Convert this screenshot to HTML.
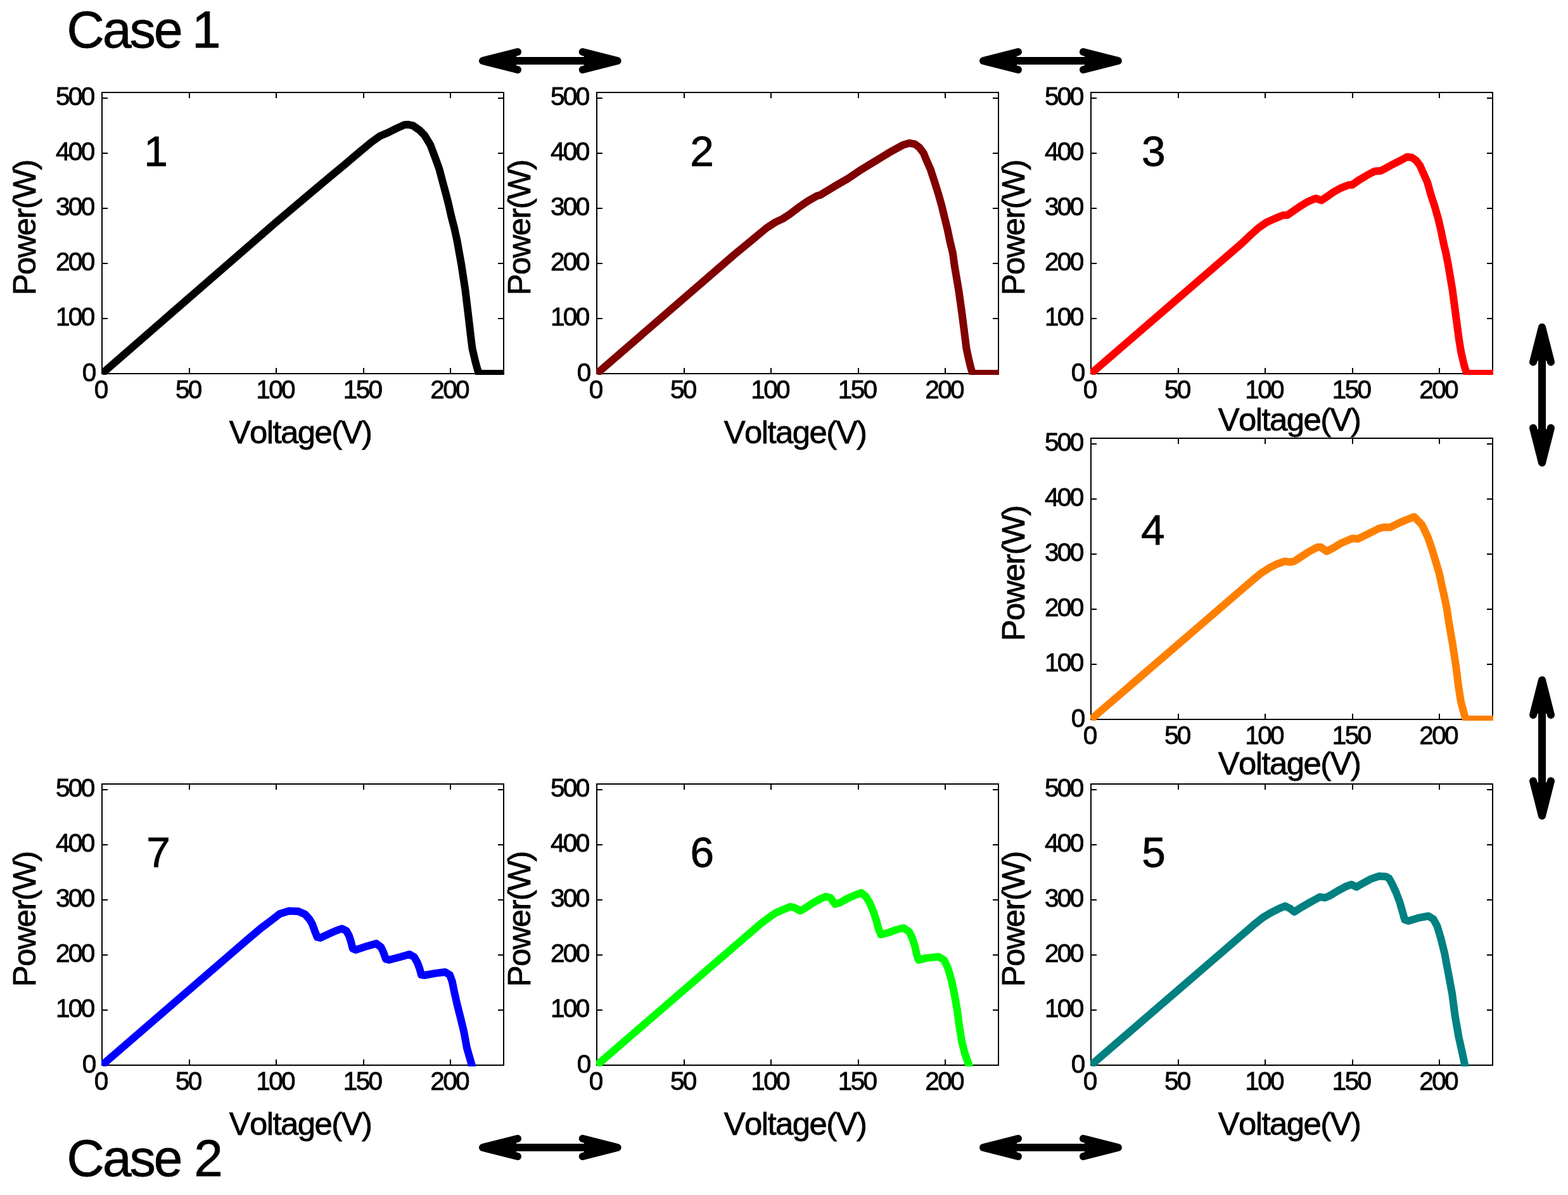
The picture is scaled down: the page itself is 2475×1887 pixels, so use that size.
<!DOCTYPE html>
<html><head><meta charset="utf-8"><title>PV curves</title>
<style>html,body{margin:0;padding:0;background:#fff;overflow:hidden}svg{display:block}.t{font-family:"Liberation Sans",Arial,Helvetica,sans-serif;fill:#000;stroke:#000;stroke-width:0.8px;font-kerning:none}</style></head><body>
<svg width="2475" height="1887" viewBox="0 0 2475 1887">
<rect width="2475" height="1887" fill="#fff"/>
<rect x="160" y="145" width="636" height="446" fill="#fff"/>
<g fill="#000" shape-rendering="crispEdges">
<rect x="160" y="145" width="636" height="2"/>
<rect x="160" y="589" width="636" height="2"/>
<rect x="160" y="145" width="2" height="446"/>
<rect x="794" y="145" width="2" height="446"/>
<rect x="160" y="589" width="10" height="2"/>
<rect x="786" y="589" width="10" height="2"/>
<rect x="160" y="502" width="10" height="2"/>
<rect x="786" y="502" width="10" height="2"/>
<rect x="160" y="415" width="10" height="2"/>
<rect x="786" y="415" width="10" height="2"/>
<rect x="160" y="328" width="10" height="2"/>
<rect x="786" y="328" width="10" height="2"/>
<rect x="160" y="241" width="10" height="2"/>
<rect x="786" y="241" width="10" height="2"/>
<rect x="160" y="154" width="10" height="2"/>
<rect x="786" y="154" width="10" height="2"/>
<rect x="160" y="581" width="2" height="10"/>
<rect x="160" y="145" width="2" height="10"/>
<rect x="297.5" y="581" width="2" height="10"/>
<rect x="297.5" y="145" width="2" height="10"/>
<rect x="435" y="581" width="2" height="10"/>
<rect x="435" y="145" width="2" height="10"/>
<rect x="572.5" y="581" width="2" height="10"/>
<rect x="572.5" y="145" width="2" height="10"/>
<rect x="710" y="581" width="2" height="10"/>
<rect x="710" y="145" width="2" height="10"/>
</g>
<text class="t" x="129.86" y="601.5" font-size="40.5">0</text>
<text class="t" x="88.06 107.86 127.66" y="513.6" font-size="40.5">100</text>
<text class="t" x="88.06 107.86 127.66" y="426.6" font-size="40.5">200</text>
<text class="t" x="88.06 107.86 127.66" y="339.6" font-size="40.5">300</text>
<text class="t" x="88.06 107.86 127.66" y="252.6" font-size="40.5">400</text>
<text class="t" x="88.06 107.86 127.66" y="165.6" font-size="40.5">500</text>
<text class="t" x="148.86" y="629.2" font-size="40.5">0</text>
<text class="t" x="276.96 296.76" y="629.2" font-size="40.5">50</text>
<text class="t" x="404.36 424.16 443.96" y="629.2" font-size="40.5">100</text>
<text class="t" x="541.86 561.66 581.46" y="629.2" font-size="40.5">150</text>
<text class="t" x="679.36 699.16 718.96" y="629.2" font-size="40.5">200</text>
<text class="t" transform="translate(56 462.1) rotate(-90)" x="-4.17 28.14 54.81 89.92 116.59 131.93 147.27 193.63" y="0" font-size="50.8">Power(W)</text>
<text class="t" x="361.68 394.03 420.76 430.52 443.11 469.83 496.56 523.29 538.68 571.03" y="699.9" font-size="50.8">Voltage(V)</text>
<text class="t" x="227.16" y="261.9" font-size="67.5">1</text>
<clipPath id="c1"><rect x="160" y="145" width="636" height="447"/></clipPath>
<path d="M161 590 L386 394.2 L434.5 352 L492.6 302.9 L521.8 278.4 L543.6 260.4 L565.3 241.9 L586.2 224.5 L599.3 215.1 L612.4 209.5 L625.5 202.9 L638.6 197 L645.1 196.8 L651.7 198.3 L662.1 205.5 L670 213.4 L679.2 228.6 L686.4 247.6 L693.3 266.7 L698.3 285.7 L703.5 304.8 L708.3 323.8 L712.6 342.9 L717.1 360 L721.5 380 L728.5 419.3 L734.5 458.6 L739.2 497.9 L743.8 537.2 L745.5 550.3 L750.1 570 L753.6 583 L756 590 L800 590" fill="none" stroke="#000000" stroke-width="12" stroke-linejoin="round" stroke-linecap="butt" clip-path="url(#c1)"/>
<rect x="941" y="145" width="636" height="446" fill="#fff"/>
<g fill="#000" shape-rendering="crispEdges">
<rect x="941" y="145" width="636" height="2"/>
<rect x="941" y="589" width="636" height="2"/>
<rect x="941" y="145" width="2" height="446"/>
<rect x="1575" y="145" width="2" height="446"/>
<rect x="941" y="589" width="10" height="2"/>
<rect x="1567" y="589" width="10" height="2"/>
<rect x="941" y="502" width="10" height="2"/>
<rect x="1567" y="502" width="10" height="2"/>
<rect x="941" y="415" width="10" height="2"/>
<rect x="1567" y="415" width="10" height="2"/>
<rect x="941" y="328" width="10" height="2"/>
<rect x="1567" y="328" width="10" height="2"/>
<rect x="941" y="241" width="10" height="2"/>
<rect x="1567" y="241" width="10" height="2"/>
<rect x="941" y="154" width="10" height="2"/>
<rect x="1567" y="154" width="10" height="2"/>
<rect x="941" y="581" width="2" height="10"/>
<rect x="941" y="145" width="2" height="10"/>
<rect x="1078.5" y="581" width="2" height="10"/>
<rect x="1078.5" y="145" width="2" height="10"/>
<rect x="1216" y="581" width="2" height="10"/>
<rect x="1216" y="145" width="2" height="10"/>
<rect x="1353.5" y="581" width="2" height="10"/>
<rect x="1353.5" y="145" width="2" height="10"/>
<rect x="1491" y="581" width="2" height="10"/>
<rect x="1491" y="145" width="2" height="10"/>
</g>
<text class="t" x="910.86" y="601.5" font-size="40.5">0</text>
<text class="t" x="869.06 888.86 908.66" y="513.6" font-size="40.5">100</text>
<text class="t" x="869.06 888.86 908.66" y="426.6" font-size="40.5">200</text>
<text class="t" x="869.06 888.86 908.66" y="339.6" font-size="40.5">300</text>
<text class="t" x="869.06 888.86 908.66" y="252.6" font-size="40.5">400</text>
<text class="t" x="869.06 888.86 908.66" y="165.6" font-size="40.5">500</text>
<text class="t" x="929.86" y="629.2" font-size="40.5">0</text>
<text class="t" x="1057.96 1077.76" y="629.2" font-size="40.5">50</text>
<text class="t" x="1185.36 1205.16 1224.96" y="629.2" font-size="40.5">100</text>
<text class="t" x="1322.86 1342.66 1362.46" y="629.2" font-size="40.5">150</text>
<text class="t" x="1460.36 1480.16 1499.96" y="629.2" font-size="40.5">200</text>
<text class="t" transform="translate(837 462.1) rotate(-90)" x="-4.17 28.14 54.81 89.92 116.59 131.93 147.27 193.63" y="0" font-size="50.8">Power(W)</text>
<text class="t" x="1142.68 1175.03 1201.76 1211.52 1224.11 1250.83 1277.56 1304.29 1319.68 1352.03" y="699.9" font-size="50.8">Voltage(V)</text>
<text class="t" x="1089.23" y="262" font-size="67.5">2</text>
<clipPath id="c2"><rect x="941" y="145" width="636" height="447"/></clipPath>
<path d="M942 590 L1159 402.1 L1188.1 378.1 L1209.9 360 L1224.4 350.6 L1235.3 345.6 L1246.2 338.5 L1260.7 327.4 L1275.2 317.5 L1289.7 309.3 L1294.5 308.1 L1316.3 294.8 L1338.1 282.2 L1359.9 267.6 L1381.6 254.3 L1403.4 241.1 L1425.2 228.9 L1435.2 226 L1444.3 227.7 L1451.1 232.8 L1457.9 241.8 L1460.5 248.6 L1468.8 267.6 L1475 286.7 L1481 305.7 L1486.4 324.8 L1491 343.8 L1495.7 362.9 L1499.2 380 L1504 400 L1506.6 419.3 L1513.3 458.6 L1518.8 497.9 L1523.8 537.2 L1525.4 550.3 L1529.7 570 L1533 583 L1535.5 590 L1580 590" fill="none" stroke="#800000" stroke-width="12" stroke-linejoin="round" stroke-linecap="butt" clip-path="url(#c2)"/>
<rect x="1721" y="145" width="636" height="446" fill="#fff"/>
<g fill="#000" shape-rendering="crispEdges">
<rect x="1721" y="145" width="636" height="2"/>
<rect x="1721" y="589" width="636" height="2"/>
<rect x="1721" y="145" width="2" height="446"/>
<rect x="2355" y="145" width="2" height="446"/>
<rect x="1721" y="589" width="10" height="2"/>
<rect x="2347" y="589" width="10" height="2"/>
<rect x="1721" y="502" width="10" height="2"/>
<rect x="2347" y="502" width="10" height="2"/>
<rect x="1721" y="415" width="10" height="2"/>
<rect x="2347" y="415" width="10" height="2"/>
<rect x="1721" y="328" width="10" height="2"/>
<rect x="2347" y="328" width="10" height="2"/>
<rect x="1721" y="241" width="10" height="2"/>
<rect x="2347" y="241" width="10" height="2"/>
<rect x="1721" y="154" width="10" height="2"/>
<rect x="2347" y="154" width="10" height="2"/>
<rect x="1721" y="581" width="2" height="10"/>
<rect x="1721" y="145" width="2" height="10"/>
<rect x="1858.5" y="581" width="2" height="10"/>
<rect x="1858.5" y="145" width="2" height="10"/>
<rect x="1996" y="581" width="2" height="10"/>
<rect x="1996" y="145" width="2" height="10"/>
<rect x="2133.5" y="581" width="2" height="10"/>
<rect x="2133.5" y="145" width="2" height="10"/>
<rect x="2271" y="581" width="2" height="10"/>
<rect x="2271" y="145" width="2" height="10"/>
</g>
<text class="t" x="1690.86" y="601.5" font-size="40.5">0</text>
<text class="t" x="1649.06 1668.86 1688.66" y="513.6" font-size="40.5">100</text>
<text class="t" x="1649.06 1668.86 1688.66" y="426.6" font-size="40.5">200</text>
<text class="t" x="1649.06 1668.86 1688.66" y="339.6" font-size="40.5">300</text>
<text class="t" x="1649.06 1668.86 1688.66" y="252.6" font-size="40.5">400</text>
<text class="t" x="1649.06 1668.86 1688.66" y="165.6" font-size="40.5">500</text>
<text class="t" x="1709.86" y="629.2" font-size="40.5">0</text>
<text class="t" x="1837.96 1857.76" y="629.2" font-size="40.5">50</text>
<text class="t" x="1965.36 1985.16 2004.96" y="629.2" font-size="40.5">100</text>
<text class="t" x="2102.86 2122.66 2142.46" y="629.2" font-size="40.5">150</text>
<text class="t" x="2240.36 2260.16 2279.96" y="629.2" font-size="40.5">200</text>
<text class="t" transform="translate(1617 462.1) rotate(-90)" x="-4.17 28.14 54.81 89.92 116.59 131.93 147.27 193.63" y="0" font-size="50.8">Power(W)</text>
<text class="t" x="1922.68 1955.03 1981.76 1991.52 2004.11 2030.83 2057.56 2084.29 2099.68 2132.03" y="680" font-size="50.8">Voltage(V)</text>
<text class="t" x="1801.93" y="262.3" font-size="67.5">3</text>
<clipPath id="c3"><rect x="1721" y="145" width="636" height="447"/></clipPath>
<path d="M1722 590 L1960 384.4 L1973.1 371.9 L1986.2 360.1 L1999.3 351 L2012.4 345.1 L2025.5 339.8 L2032 339.8 L2038.6 335.2 L2051.7 326.1 L2064.8 318.2 L2076.6 313.2 L2085.7 316.3 L2091 313 L2104.1 303.8 L2117.1 296.6 L2128.9 292 L2134.2 292 L2143.3 285.5 L2156.4 277.6 L2169.5 270.4 L2179 269.8 L2187 265.8 L2198.3 259.6 L2209.6 253.9 L2220.9 247.7 L2228.8 248.8 L2235.6 253.9 L2241.3 261.3 L2244.5 268.6 L2253 287.6 L2258.3 306.7 L2264.5 325.7 L2270 344.8 L2274.5 363.8 L2278.3 382.9 L2282.4 400 L2286.1 419.3 L2292.7 458.6 L2297.9 497.9 L2303.1 537.2 L2306.4 556.9 L2311 576.5 L2313.4 584.4 L2315.5 590 L2360 590" fill="none" stroke="#ff0000" stroke-width="12" stroke-linejoin="round" stroke-linecap="butt" clip-path="url(#c3)"/>
<rect x="1721" y="691" width="636" height="446" fill="#fff"/>
<g fill="#000" shape-rendering="crispEdges">
<rect x="1721" y="691" width="636" height="2"/>
<rect x="1721" y="1135" width="636" height="2"/>
<rect x="1721" y="691" width="2" height="446"/>
<rect x="2355" y="691" width="2" height="446"/>
<rect x="1721" y="1135" width="10" height="2"/>
<rect x="2347" y="1135" width="10" height="2"/>
<rect x="1721" y="1048" width="10" height="2"/>
<rect x="2347" y="1048" width="10" height="2"/>
<rect x="1721" y="961" width="10" height="2"/>
<rect x="2347" y="961" width="10" height="2"/>
<rect x="1721" y="874" width="10" height="2"/>
<rect x="2347" y="874" width="10" height="2"/>
<rect x="1721" y="787" width="10" height="2"/>
<rect x="2347" y="787" width="10" height="2"/>
<rect x="1721" y="700" width="10" height="2"/>
<rect x="2347" y="700" width="10" height="2"/>
<rect x="1721" y="1127" width="2" height="10"/>
<rect x="1721" y="691" width="2" height="10"/>
<rect x="1858.5" y="1127" width="2" height="10"/>
<rect x="1858.5" y="691" width="2" height="10"/>
<rect x="1996" y="1127" width="2" height="10"/>
<rect x="1996" y="691" width="2" height="10"/>
<rect x="2133.5" y="1127" width="2" height="10"/>
<rect x="2133.5" y="691" width="2" height="10"/>
<rect x="2271" y="1127" width="2" height="10"/>
<rect x="2271" y="691" width="2" height="10"/>
</g>
<text class="t" x="1690.86" y="1147.5" font-size="40.5">0</text>
<text class="t" x="1649.06 1668.86 1688.66" y="1059.6" font-size="40.5">100</text>
<text class="t" x="1649.06 1668.86 1688.66" y="972.6" font-size="40.5">200</text>
<text class="t" x="1649.06 1668.86 1688.66" y="885.6" font-size="40.5">300</text>
<text class="t" x="1649.06 1668.86 1688.66" y="798.6" font-size="40.5">400</text>
<text class="t" x="1649.06 1668.86 1688.66" y="711.6" font-size="40.5">500</text>
<text class="t" x="1709.86" y="1175.2" font-size="40.5">0</text>
<text class="t" x="1837.96 1857.76" y="1175.2" font-size="40.5">50</text>
<text class="t" x="1965.36 1985.16 2004.96" y="1175.2" font-size="40.5">100</text>
<text class="t" x="2102.86 2122.66 2142.46" y="1175.2" font-size="40.5">150</text>
<text class="t" x="2240.36 2260.16 2279.96" y="1175.2" font-size="40.5">200</text>
<text class="t" transform="translate(1617 1008.1) rotate(-90)" x="-4.17 28.14 54.81 89.92 116.59 131.93 147.27 193.63" y="0" font-size="50.8">Power(W)</text>
<text class="t" x="1922.68 1955.03 1981.76 1991.52 2004.11 2030.83 2057.56 2084.29 2099.68 2132.03" y="1223" font-size="50.8">Voltage(V)</text>
<text class="t" x="1800.94" y="859.8" font-size="67.5">4</text>
<clipPath id="c4"><rect x="1721" y="691" width="636" height="447"/></clipPath>
<path d="M1722 1136 L1980 913.8 L1990.5 905.2 L2003.6 896.7 L2016.7 890.2 L2028.5 886.3 L2036.3 887.6 L2042.9 886.3 L2052 880.4 L2065.1 871.8 L2079.5 864 L2084.8 864 L2093.9 870.5 L2104.4 865.3 L2117.5 857.4 L2134.5 850.2 L2143.7 850.9 L2156.8 844.3 L2176.4 834.5 L2184.3 832.6 L2194.6 832.7 L2211.3 824.4 L2232.1 816 L2244.5 828.6 L2253.5 847.6 L2260.2 866.7 L2265.9 885.7 L2271.6 904.8 L2275.7 923.8 L2280 942.9 L2283.5 960 L2287.1 983.9 L2293 1017.9 L2298.1 1051.8 L2302.4 1085.7 L2306 1108.4 L2312.3 1131.7 L2314 1136 L2360 1136" fill="none" stroke="#ff8000" stroke-width="12" stroke-linejoin="round" stroke-linecap="butt" clip-path="url(#c4)"/>
<rect x="160" y="1237" width="636" height="446" fill="#fff"/>
<g fill="#000" shape-rendering="crispEdges">
<rect x="160" y="1237" width="636" height="2"/>
<rect x="160" y="1681" width="636" height="2"/>
<rect x="160" y="1237" width="2" height="446"/>
<rect x="794" y="1237" width="2" height="446"/>
<rect x="160" y="1681" width="10" height="2"/>
<rect x="786" y="1681" width="10" height="2"/>
<rect x="160" y="1594" width="10" height="2"/>
<rect x="786" y="1594" width="10" height="2"/>
<rect x="160" y="1507" width="10" height="2"/>
<rect x="786" y="1507" width="10" height="2"/>
<rect x="160" y="1420" width="10" height="2"/>
<rect x="786" y="1420" width="10" height="2"/>
<rect x="160" y="1333" width="10" height="2"/>
<rect x="786" y="1333" width="10" height="2"/>
<rect x="160" y="1246" width="10" height="2"/>
<rect x="786" y="1246" width="10" height="2"/>
<rect x="160" y="1673" width="2" height="10"/>
<rect x="160" y="1237" width="2" height="10"/>
<rect x="297.5" y="1673" width="2" height="10"/>
<rect x="297.5" y="1237" width="2" height="10"/>
<rect x="435" y="1673" width="2" height="10"/>
<rect x="435" y="1237" width="2" height="10"/>
<rect x="572.5" y="1673" width="2" height="10"/>
<rect x="572.5" y="1237" width="2" height="10"/>
<rect x="710" y="1673" width="2" height="10"/>
<rect x="710" y="1237" width="2" height="10"/>
</g>
<text class="t" x="129.86" y="1693.5" font-size="40.5">0</text>
<text class="t" x="88.06 107.86 127.66" y="1605.6" font-size="40.5">100</text>
<text class="t" x="88.06 107.86 127.66" y="1518.6" font-size="40.5">200</text>
<text class="t" x="88.06 107.86 127.66" y="1431.6" font-size="40.5">300</text>
<text class="t" x="88.06 107.86 127.66" y="1344.6" font-size="40.5">400</text>
<text class="t" x="88.06 107.86 127.66" y="1257.6" font-size="40.5">500</text>
<text class="t" x="148.86" y="1721.2" font-size="40.5">0</text>
<text class="t" x="276.96 296.76" y="1721.2" font-size="40.5">50</text>
<text class="t" x="404.36 424.16 443.96" y="1721.2" font-size="40.5">100</text>
<text class="t" x="541.86 561.66 581.46" y="1721.2" font-size="40.5">150</text>
<text class="t" x="679.36 699.16 718.96" y="1721.2" font-size="40.5">200</text>
<text class="t" transform="translate(56 1554.1) rotate(-90)" x="-4.17 28.14 54.81 89.92 116.59 131.93 147.27 193.63" y="0" font-size="50.8">Power(W)</text>
<text class="t" x="361.68 394.03 420.76 430.52 443.11 469.83 496.56 523.29 538.68 571.03" y="1791.9" font-size="50.8">Voltage(V)</text>
<text class="t" x="231.2" y="1368.8" font-size="67.5">7</text>
<clipPath id="c7"><rect x="160" y="1237" width="636" height="447"/></clipPath>
<path d="M161 1682 L390.8 1483.5 L412.6 1465.1 L427.1 1454.2 L441.6 1442.9 L456.2 1438.4 L470.7 1439 L481.6 1443.8 L488.8 1452 L492.8 1458.9 L496.8 1469.9 L500.8 1479.9 L505.8 1480.9 L519.8 1474.4 L529.8 1469.9 L539.7 1466.4 L546.7 1469.9 L550.7 1476.9 L553.7 1485.9 L556.7 1497.9 L561.7 1499.9 L579.7 1493.9 L593.7 1489.9 L601.6 1495.9 L605.6 1504.8 L609 1514.5 L614 1515.8 L631.3 1511.3 L646.3 1506.9 L653.8 1511.3 L658.8 1520 L662.5 1530 L665 1539.4 L670 1540 L687.5 1536.9 L702.5 1535 L710 1539.4 L713.8 1550 L716.8 1565 L721.6 1586.3 L727 1607.5 L732.4 1630 L737 1655 L740.6 1667.5 L746.5 1688" fill="none" stroke="#0000ff" stroke-width="12" stroke-linejoin="round" stroke-linecap="butt" clip-path="url(#c7)"/>
<rect x="941" y="1237" width="636" height="446" fill="#fff"/>
<g fill="#000" shape-rendering="crispEdges">
<rect x="941" y="1237" width="636" height="2"/>
<rect x="941" y="1681" width="636" height="2"/>
<rect x="941" y="1237" width="2" height="446"/>
<rect x="1575" y="1237" width="2" height="446"/>
<rect x="941" y="1681" width="10" height="2"/>
<rect x="1567" y="1681" width="10" height="2"/>
<rect x="941" y="1594" width="10" height="2"/>
<rect x="1567" y="1594" width="10" height="2"/>
<rect x="941" y="1507" width="10" height="2"/>
<rect x="1567" y="1507" width="10" height="2"/>
<rect x="941" y="1420" width="10" height="2"/>
<rect x="1567" y="1420" width="10" height="2"/>
<rect x="941" y="1333" width="10" height="2"/>
<rect x="1567" y="1333" width="10" height="2"/>
<rect x="941" y="1246" width="10" height="2"/>
<rect x="1567" y="1246" width="10" height="2"/>
<rect x="941" y="1673" width="2" height="10"/>
<rect x="941" y="1237" width="2" height="10"/>
<rect x="1078.5" y="1673" width="2" height="10"/>
<rect x="1078.5" y="1237" width="2" height="10"/>
<rect x="1216" y="1673" width="2" height="10"/>
<rect x="1216" y="1237" width="2" height="10"/>
<rect x="1353.5" y="1673" width="2" height="10"/>
<rect x="1353.5" y="1237" width="2" height="10"/>
<rect x="1491" y="1673" width="2" height="10"/>
<rect x="1491" y="1237" width="2" height="10"/>
</g>
<text class="t" x="910.86" y="1693.5" font-size="40.5">0</text>
<text class="t" x="869.06 888.86 908.66" y="1605.6" font-size="40.5">100</text>
<text class="t" x="869.06 888.86 908.66" y="1518.6" font-size="40.5">200</text>
<text class="t" x="869.06 888.86 908.66" y="1431.6" font-size="40.5">300</text>
<text class="t" x="869.06 888.86 908.66" y="1344.6" font-size="40.5">400</text>
<text class="t" x="869.06 888.86 908.66" y="1257.6" font-size="40.5">500</text>
<text class="t" x="929.86" y="1721.2" font-size="40.5">0</text>
<text class="t" x="1057.96 1077.76" y="1721.2" font-size="40.5">50</text>
<text class="t" x="1185.36 1205.16 1224.96" y="1721.2" font-size="40.5">100</text>
<text class="t" x="1322.86 1342.66 1362.46" y="1721.2" font-size="40.5">150</text>
<text class="t" x="1460.36 1480.16 1499.96" y="1721.2" font-size="40.5">200</text>
<text class="t" transform="translate(837 1554.1) rotate(-90)" x="-4.17 28.14 54.81 89.92 116.59 131.93 147.27 193.63" y="0" font-size="50.8">Power(W)</text>
<text class="t" x="1142.68 1175.03 1201.76 1211.52 1224.11 1250.83 1277.56 1304.29 1319.68 1352.03" y="1791.9" font-size="50.8">Voltage(V)</text>
<text class="t" x="1089.5" y="1369.2" font-size="67.5">6</text>
<clipPath id="c6"><rect x="941" y="1237" width="636" height="447"/></clipPath>
<path d="M942 1682 L1200 1459.2 L1211.9 1450.2 L1223.8 1441.9 L1235.7 1436.5 L1247.6 1431.8 L1254.8 1433.6 L1263.1 1438.3 L1271.4 1433.6 L1283.3 1425.8 L1295.2 1419.3 L1303.6 1415.7 L1310.7 1417.5 L1317.9 1427.6 L1325 1425.8 L1336.9 1419.3 L1348.8 1413.9 L1359.5 1409.8 L1366.7 1415.7 L1372.6 1425.2 L1378.6 1439.5 L1383.3 1453.8 L1386.7 1466.8 L1390.4 1475.7 L1402.3 1472.7 L1414.2 1468.3 L1426.1 1465.3 L1435 1471.2 L1439.5 1480.2 L1444 1493.6 L1446.9 1506.9 L1449.9 1515.9 L1461.8 1512.9 L1481.2 1510.7 L1490.1 1515.9 L1496 1527.8 L1502 1548.6 L1506.4 1569.4 L1510.9 1594.7 L1513.9 1618.5 L1518.3 1645.3 L1522.8 1663.1 L1531.5 1688" fill="none" stroke="#00ff00" stroke-width="12" stroke-linejoin="round" stroke-linecap="butt" clip-path="url(#c6)"/>
<rect x="1721" y="1237" width="636" height="446" fill="#fff"/>
<g fill="#000" shape-rendering="crispEdges">
<rect x="1721" y="1237" width="636" height="2"/>
<rect x="1721" y="1681" width="636" height="2"/>
<rect x="1721" y="1237" width="2" height="446"/>
<rect x="2355" y="1237" width="2" height="446"/>
<rect x="1721" y="1681" width="10" height="2"/>
<rect x="2347" y="1681" width="10" height="2"/>
<rect x="1721" y="1594" width="10" height="2"/>
<rect x="2347" y="1594" width="10" height="2"/>
<rect x="1721" y="1507" width="10" height="2"/>
<rect x="2347" y="1507" width="10" height="2"/>
<rect x="1721" y="1420" width="10" height="2"/>
<rect x="2347" y="1420" width="10" height="2"/>
<rect x="1721" y="1333" width="10" height="2"/>
<rect x="2347" y="1333" width="10" height="2"/>
<rect x="1721" y="1246" width="10" height="2"/>
<rect x="2347" y="1246" width="10" height="2"/>
<rect x="1721" y="1673" width="2" height="10"/>
<rect x="1721" y="1237" width="2" height="10"/>
<rect x="1858.5" y="1673" width="2" height="10"/>
<rect x="1858.5" y="1237" width="2" height="10"/>
<rect x="1996" y="1673" width="2" height="10"/>
<rect x="1996" y="1237" width="2" height="10"/>
<rect x="2133.5" y="1673" width="2" height="10"/>
<rect x="2133.5" y="1237" width="2" height="10"/>
<rect x="2271" y="1673" width="2" height="10"/>
<rect x="2271" y="1237" width="2" height="10"/>
</g>
<text class="t" x="1690.86" y="1693.5" font-size="40.5">0</text>
<text class="t" x="1649.06 1668.86 1688.66" y="1605.6" font-size="40.5">100</text>
<text class="t" x="1649.06 1668.86 1688.66" y="1518.6" font-size="40.5">200</text>
<text class="t" x="1649.06 1668.86 1688.66" y="1431.6" font-size="40.5">300</text>
<text class="t" x="1649.06 1668.86 1688.66" y="1344.6" font-size="40.5">400</text>
<text class="t" x="1649.06 1668.86 1688.66" y="1257.6" font-size="40.5">500</text>
<text class="t" x="1709.86" y="1721.2" font-size="40.5">0</text>
<text class="t" x="1837.96 1857.76" y="1721.2" font-size="40.5">50</text>
<text class="t" x="1965.36 1985.16 2004.96" y="1721.2" font-size="40.5">100</text>
<text class="t" x="2102.86 2122.66 2142.46" y="1721.2" font-size="40.5">150</text>
<text class="t" x="2240.36 2260.16 2279.96" y="1721.2" font-size="40.5">200</text>
<text class="t" transform="translate(1617 1554.1) rotate(-90)" x="-4.17 28.14 54.81 89.92 116.59 131.93 147.27 193.63" y="0" font-size="50.8">Power(W)</text>
<text class="t" x="1922.68 1955.03 1981.76 1991.52 2004.11 2030.83 2057.56 2084.29 2099.68 2132.03" y="1791.9" font-size="50.8">Voltage(V)</text>
<text class="t" x="1802.3" y="1369.2" font-size="67.5">5</text>
<clipPath id="c5"><rect x="1721" y="1237" width="636" height="447"/></clipPath>
<path d="M1722 1682 L1980 1459.5 L1993.1 1449 L2006.2 1441.2 L2019.3 1434.6 L2028.5 1430.7 L2036.3 1434.6 L2042.9 1439.9 L2053.3 1433.3 L2069 1424.2 L2083.5 1416.3 L2091.3 1417.6 L2097.9 1415 L2111 1407.1 L2124.1 1400 L2133.2 1396.7 L2141.1 1400.6 L2150.2 1395.4 L2163.3 1388.2 L2176.4 1383.6 L2187.9 1384.3 L2192.5 1387 L2197.5 1396 L2203.6 1409.1 L2209.5 1424.8 L2213.4 1438.6 L2217.3 1452.4 L2223.2 1454.3 L2239 1449.4 L2254.7 1446.5 L2262.5 1451.4 L2268.4 1462.2 L2274.3 1481.8 L2280.2 1505.4 L2286.1 1536.9 L2292 1568.3 L2296.9 1605.6 L2302.8 1639 L2307.7 1660.6 L2313.5 1688" fill="none" stroke="#008080" stroke-width="12" stroke-linejoin="round" stroke-linecap="butt" clip-path="url(#c5)"/>
<text class="t" x="105.54 161.98 204.81 243.04 272.96 302.88" y="75" font-size="82">Case 1</text>
<text class="t" x="105.54 161.91 204.68 242.84 274.57 306.3" y="1856.7" font-size="82">Case 2</text>
<line x1="802" y1="96" x2="934.7" y2="96" stroke="#000" stroke-width="12"/>
<polygon points="817,82 762,96 817,110 813,96" fill="#000"/>
<polyline points="817,82 762,96 817,110" fill="none" stroke="#000" stroke-width="12" stroke-linejoin="round" stroke-linecap="round"/>
<polygon points="919.7,82 974.7,96 919.7,110 923.7,96" fill="#000"/>
<polyline points="919.7,82 974.7,96 919.7,110" fill="none" stroke="#000" stroke-width="12" stroke-linejoin="round" stroke-linecap="round"/>
<line x1="1592" y1="96" x2="1724.9" y2="96" stroke="#000" stroke-width="12"/>
<polygon points="1607,82 1552,96 1607,110 1603,96" fill="#000"/>
<polyline points="1607,82 1552,96 1607,110" fill="none" stroke="#000" stroke-width="12" stroke-linejoin="round" stroke-linecap="round"/>
<polygon points="1709.9,82 1764.9,96 1709.9,110 1713.9,96" fill="#000"/>
<polyline points="1709.9,82 1764.9,96 1709.9,110" fill="none" stroke="#000" stroke-width="12" stroke-linejoin="round" stroke-linecap="round"/>
<line x1="802" y1="1812" x2="934.7" y2="1812" stroke="#000" stroke-width="12"/>
<polygon points="817,1798 762,1812 817,1826 813,1812" fill="#000"/>
<polyline points="817,1798 762,1812 817,1826" fill="none" stroke="#000" stroke-width="12" stroke-linejoin="round" stroke-linecap="round"/>
<polygon points="919.7,1798 974.7,1812 919.7,1826 923.7,1812" fill="#000"/>
<polyline points="919.7,1798 974.7,1812 919.7,1826" fill="none" stroke="#000" stroke-width="12" stroke-linejoin="round" stroke-linecap="round"/>
<line x1="1592" y1="1812" x2="1724.9" y2="1812" stroke="#000" stroke-width="12"/>
<polygon points="1607,1798 1552,1812 1607,1826 1603,1812" fill="#000"/>
<polyline points="1607,1798 1552,1812 1607,1826" fill="none" stroke="#000" stroke-width="12" stroke-linejoin="round" stroke-linecap="round"/>
<polygon points="1709.9,1798 1764.9,1812 1709.9,1826 1713.9,1812" fill="#000"/>
<polyline points="1709.9,1798 1764.9,1812 1709.9,1826" fill="none" stroke="#000" stroke-width="12" stroke-linejoin="round" stroke-linecap="round"/>
<line x1="2434" y1="556.7" x2="2434" y2="690.7" stroke="#000" stroke-width="12"/>
<polygon points="2420,571.7 2434,516.7 2448,571.7 2434,567.7" fill="#000"/>
<polyline points="2420,571.7 2434,516.7 2448,571.7" fill="none" stroke="#000" stroke-width="12" stroke-linejoin="round" stroke-linecap="round"/>
<polygon points="2420,675.7 2434,730.7 2448,675.7 2434,679.7" fill="#000"/>
<polyline points="2420,675.7 2434,730.7 2448,675.7" fill="none" stroke="#000" stroke-width="12" stroke-linejoin="round" stroke-linecap="round"/>
<line x1="2434" y1="1113.9" x2="2434" y2="1248.2" stroke="#000" stroke-width="12"/>
<polygon points="2420,1128.9 2434,1073.9 2448,1128.9 2434,1124.9" fill="#000"/>
<polyline points="2420,1128.9 2434,1073.9 2448,1128.9" fill="none" stroke="#000" stroke-width="12" stroke-linejoin="round" stroke-linecap="round"/>
<polygon points="2420,1233.2 2434,1288.2 2448,1233.2 2434,1237.2" fill="#000"/>
<polyline points="2420,1233.2 2434,1288.2 2448,1233.2" fill="none" stroke="#000" stroke-width="12" stroke-linejoin="round" stroke-linecap="round"/>
</svg>
</body></html>
